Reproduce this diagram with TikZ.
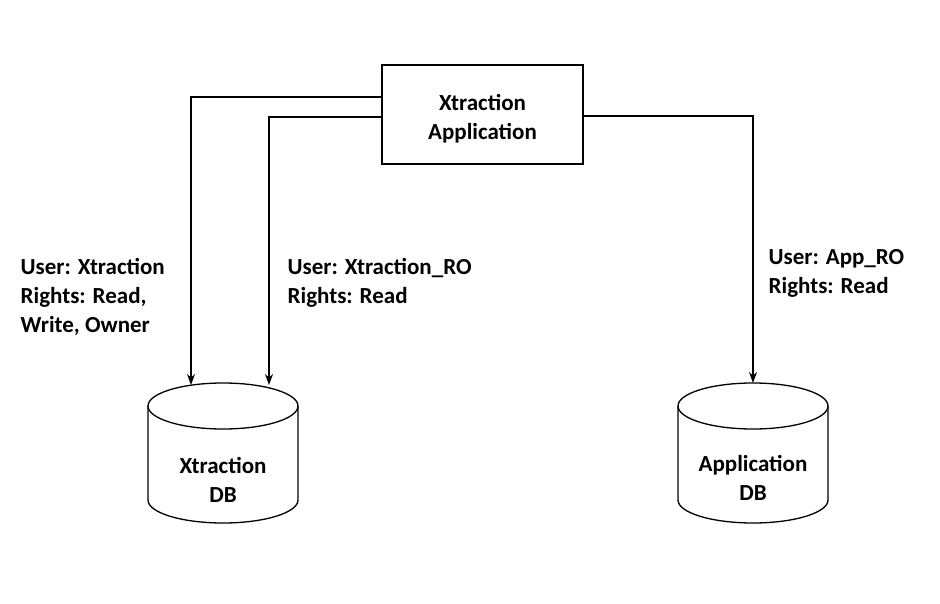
\documentclass[tikz,border=0pt]{standalone}
\usepackage{fontspec}
\setmainfont{Carlito}
\usetikzlibrary{arrows.meta,positioning}

\begin{document}
\begin{tikzpicture}[x=1pt,y=-1pt,>={Stealth[length=11pt,width=8pt]},line width=1.3pt,
  font=\fontsize{23}{29}\selectfont\bfseries,
  appbox/.style={draw,minimum width=201pt,minimum height=99pt},
  dbspace/.style={minimum width=150pt,minimum height=140pt,inner sep=0pt,outer sep=0pt},
  conn/.style={->},
  lbl/.style={align=left,anchor=base west,inner sep=0pt}]
  \useasboundingbox (0,0) rectangle (940,604);
  % the application and its two databases
  \node[appbox] (app) at (482.5,114.5) {};
  \node[align=center] (apptxt) at (482.5,118.5) {Xtraction\\Application};
  \node[dbspace] (xdb) at (223,453) {};
  \node[dbspace] (adb) at (753,453) {};
  \foreach \db in {xdb,adb}{
    \draw ([yshift=-23pt]\db.north) ellipse [x radius=75pt,y radius=23pt];
    \draw ([yshift=-23pt]\db.north west) -- ([yshift=23pt]\db.south west)
       arc [start angle=180,end angle=360,x radius=75pt,y radius=23pt]
       -- ([yshift=-23pt]\db.north east);
  }
  \node[align=center] (xdbtxt) at (223,480) {Xtraction\\DB};
  \node[align=center] (adbtxt) at (753,478) {Application\\DB};
  % arrow ends on the top of the cylinders
  \coordinate (xin1) at (191,385);
  \coordinate (xin2) at (269,385);
  \coordinate (ain) at (753,383);
  \draw[conn] (app.west |- 0,97) -| (xin1);
  \draw[conn] (app.west |- 0,117) -| (xin2);
  \draw[conn] (app.east |- 0,116) -| (ain);
  % access rights
  \node[lbl] (xowner) at (20,332) {User: Xtraction\\Rights: Read,\\Write, Owner};
  \node[lbl] (xro) at (287,303) {User: Xtraction\_RO\\Rights: Read};
  \node[lbl] (aro) at (768,294) {User: App\_RO\\Rights: Read};
\end{tikzpicture}
\end{document}
